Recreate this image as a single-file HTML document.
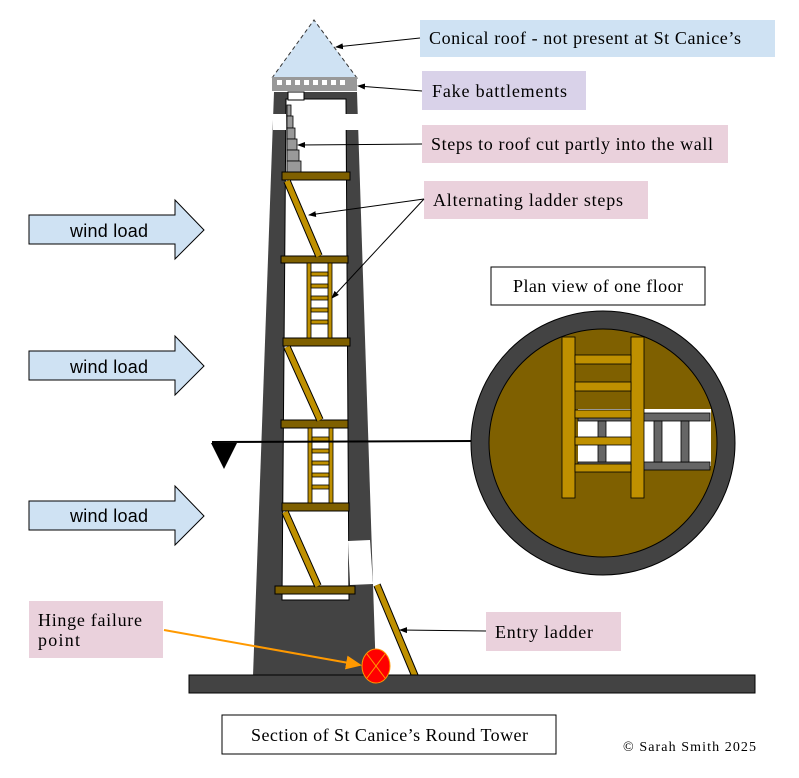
<!DOCTYPE html>
<html><head><meta charset="utf-8"><style>
html,body{margin:0;padding:0;background:#fff;}
svg{display:block}
.s{font-family:"Liberation Serif",serif;font-size:18px;fill:#000}
.a{font-family:"Liberation Sans",sans-serif;font-size:18px;fill:#000}
</style></head><body>
<svg width="799" height="778" viewBox="0 0 799 778" xmlns="http://www.w3.org/2000/svg">
<defs>
<marker id="ah" markerWidth="8" markerHeight="8" refX="7" refY="4" orient="auto" markerUnits="userSpaceOnUse"><path d="M0,1 L8,4 L0,7 z" fill="#000"/></marker>
<marker id="oh" markerWidth="16" markerHeight="14" refX="14" refY="7" orient="auto" markerUnits="userSpaceOnUse"><path d="M0,0 L16,7 L0,14 z" fill="#f90"/></marker>
</defs>
<!-- cone -->
<polygon points="272,78 314,20 357,78" fill="#cfe2f3" stroke="#333" stroke-dasharray="4,3"/>
<!-- battlements -->
<rect x="272" y="77" width="85" height="14" fill="#999"/>
<g fill="#fff"><rect x="277" y="80" width="5" height="5"/><rect x="286" y="80" width="5" height="5"/><rect x="295" y="80" width="5" height="5"/><rect x="304" y="80" width="5" height="5"/><rect x="313" y="80" width="5" height="5"/><rect x="322" y="80" width="5" height="5"/><rect x="331" y="80" width="5" height="5"/><rect x="340" y="80" width="5" height="5"/></g>
<!-- tower -->
<polygon points="274,92 357,92 376,676 253,676" fill="#434343"/>
<polygon points="286,99 346,99 349,600 282,600" fill="#fff" stroke="#000" stroke-width="1"/>
<rect x="288" y="92" width="16" height="8" fill="#fff" stroke="#000"/>
<rect x="273" y="114" width="13" height="16" fill="#fff"/>
<rect x="344" y="114" width="16" height="16" fill="#fff"/>
<polygon points="348,541 370,540 373,584 350,585" fill="#fff"/>
<!-- steps -->
<g fill="#999" stroke="#000" stroke-width="0.8">
<rect x="287" y="105" width="4" height="11"/><rect x="287" y="116" width="6" height="12"/><rect x="287" y="128" width="8" height="11"/><rect x="287" y="139" width="10" height="11"/><rect x="287" y="150" width="12" height="11"/><rect x="287" y="161" width="14" height="11"/>
</g>
<!-- floors -->
<g fill="#7f6000" stroke="#000">
<rect x="282" y="172" width="68" height="8"/>
<rect x="281" y="256" width="67" height="7"/>
<rect x="283" y="338" width="67" height="8"/>
<rect x="281" y="420" width="67" height="8"/>
<rect x="282" y="503" width="67" height="8"/>
<rect x="275" y="586" width="80" height="8"/>
</g>
<!-- diagonal ladders -->
<g stroke="#000" stroke-width="7.5"><line x1="287" y1="181" x2="319" y2="256"/><line x1="287" y1="347" x2="320" y2="420"/><line x1="285" y1="512" x2="318" y2="586"/><line x1="377" y1="585" x2="415" y2="676"/></g>
<g stroke="#bf9000" stroke-width="5.5"><line x1="287" y1="181" x2="319" y2="256"/><line x1="287" y1="347" x2="320" y2="420"/><line x1="285" y1="512" x2="318" y2="586"/><line x1="377" y1="585" x2="415" y2="676"/></g>
<!-- vertical ladders -->
<g fill="#bf9000" stroke="#000" stroke-width="0.8">
<rect x="307" y="263" width="4" height="75"/><rect x="328" y="263" width="4" height="75"/>
<rect x="311" y="272" width="17" height="4"/><rect x="311" y="284" width="17" height="4"/><rect x="311" y="296" width="17" height="4"/><rect x="311" y="308" width="17" height="4"/><rect x="311" y="320" width="17" height="4"/>
<rect x="308" y="428" width="4" height="75"/><rect x="329" y="428" width="4" height="75"/>
<rect x="312" y="437" width="17" height="4"/><rect x="312" y="449" width="17" height="4"/><rect x="312" y="461" width="17" height="4"/><rect x="312" y="473" width="17" height="4"/><rect x="312" y="485" width="17" height="4"/>
</g>
<!-- ground -->
<rect x="189" y="675" width="566" height="18" fill="#434343" stroke="#000"/>
<!-- hinge -->
<ellipse cx="376" cy="666" rx="14" ry="17" fill="#f00" stroke="#f90"/>
<line x1="367" y1="654" x2="385" y2="678" stroke="#f90"/><line x1="385" y1="654" x2="367" y2="678" stroke="#f90"/>
<line x1="164" y1="630" x2="360" y2="665" stroke="#f90" stroke-width="2" marker-end="url(#oh)"/>
<!-- section line -->
<line x1="212" y1="442" x2="474" y2="441" stroke="#000" stroke-width="2"/>
<polygon points="211,443 237,443 224,469" fill="#000"/>
<!-- plan -->
<circle cx="603" cy="443" r="132" fill="#434343" stroke="#000"/>
<circle cx="603" cy="443" r="114" fill="#7f6000" stroke="#000"/>
<rect x="578" y="409" width="133" height="57" fill="#fff"/>
<g fill="#666" stroke="#000" stroke-width="0.8">
<rect x="578" y="413" width="132" height="8"/><rect x="578" y="462" width="132" height="8"/>
<rect x="598" y="421" width="8" height="41"/><rect x="654" y="421" width="8" height="41"/><rect x="681" y="421" width="8" height="41"/>
</g>
<g fill="#bf9000" stroke="#000" stroke-width="0.8">
<rect x="562" y="337" width="13" height="161"/><rect x="631" y="337" width="13" height="161"/>
<rect x="575" y="355" width="56" height="9"/><rect x="575" y="382" width="56" height="9"/><rect x="575" y="410" width="56" height="8"/><rect x="575" y="437" width="56" height="8"/><rect x="575" y="464" width="56" height="8"/>
</g>
<!-- wind arrows -->
<g fill="#cfe2f3" stroke="#000">
<polygon points="29,215 175,215 175,200 204,230 175,259 175,244 29,244"/>
<polygon points="29,351 175,351 175,336 204,366 175,395 175,380 29,380"/>
<polygon points="29,501 175,501 175,486 204,516 175,545 175,530 29,530"/>
</g>
<text class="a" x="70" y="237" textLength="78">wind load</text>
<text class="a" x="70" y="373" textLength="78">wind load</text>
<text class="a" x="70" y="522" textLength="78">wind load</text>
<!-- labels -->
<rect x="420" y="20" width="355" height="37" fill="#cfe2f3"/>
<text class="s" x="429" y="44" textLength="312">Conical roof - not present at St Canice’s</text>
<rect x="422" y="71" width="164" height="39" fill="#d9d2e9"/>
<text class="s" x="432" y="97" textLength="135">Fake battlements</text>
<rect x="422" y="125" width="306" height="38" fill="#ead1dc"/>
<text class="s" x="431" y="150" textLength="282">Steps to roof cut partly into the wall</text>
<rect x="424" y="181" width="224" height="38" fill="#ead1dc"/>
<text class="s" x="433" y="206" textLength="190">Alternating ladder steps</text>
<rect x="491" y="267" width="214" height="38" fill="#fff" stroke="#000"/>
<text class="s" x="513" y="292" textLength="170">Plan view of one floor</text>
<rect x="29" y="601" width="134" height="57" fill="#ead1dc"/>
<text class="s" x="38" y="626" textLength="104">Hinge failure</text>
<text class="s" x="38" y="646" textLength="42">point</text>
<rect x="486" y="612" width="135" height="39" fill="#ead1dc"/>
<text class="s" x="495" y="638" textLength="98">Entry ladder</text>
<rect x="222" y="715" width="334" height="39" fill="#fff" stroke="#000"/>
<text class="s" x="251" y="741" textLength="277">Section of St Canice’s Round Tower</text>
<text class="s" x="623" y="751" style="font-size:14px" textLength="133">© Sarah Smith 2025</text>
<!-- pointer arrows -->
<g stroke="#000" stroke-width="1" fill="none" marker-end="url(#ah)">
<line x1="420" y1="38" x2="336" y2="47"/>
<line x1="422" y1="91" x2="358" y2="86"/>
<line x1="422" y1="144" x2="298" y2="145"/>
<line x1="424" y1="199" x2="309" y2="215"/>
<line x1="424" y1="199" x2="332" y2="298"/>
<line x1="486" y1="631" x2="400" y2="630"/>
</g>
</svg>
</body></html>
